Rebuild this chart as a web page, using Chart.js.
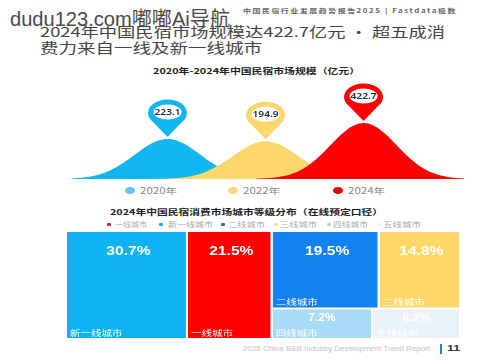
<!DOCTYPE html>
<html><head><meta charset="utf-8">
<script src="https://cdn.jsdelivr.net/npm/chart.js@4.4.1/dist/chart.umd.min.js"></script>
<style>
html,body{margin:0;padding:0;background:#fff;}
#page{position:relative;width:500px;height:360px;overflow:hidden;background:#fff;font-family:"Noto Sans CJK SC","Noto Sans",sans-serif;}
.t{position:absolute;white-space:nowrap;transform-origin:0 0;}
.m{position:absolute;}
canvas{position:absolute;}
</style></head><body>
<div id="page">
  <canvas id="c1" width="392" height="99" style="left:72px;top:80px;width:392px;height:99px"></canvas>
  <canvas id="c2" width="394" height="108" style="left:66px;top:231px;width:394px;height:108px"></canvas>
</div>
<script>
// ---------- DATA ----------
const years = ['2020年', '2022年', '2024年'];
const yearValues = [2020, 2022, 2024];
const marketSize = [223.1, 194.9, 422.7];           // 亿元
const cityTiers = ['一线城市', '新一线城市', '二线城市', '三线城市', '四线城市', '五线城市'];
const tierShare = [21.5, 30.7, 19.5, 14.8, 7.2, 6.3]; // %

// ---------- STYLE ----------
const yearColors = ['#12B6F1', '#FDD66C', '#FF0000'];
const yearLegendColors = ['#5EC5EF', '#FBD978', '#E60000'];
const tierColors = ['#FF0000', '#0DB3F2', '#1482EE', '#FED867', '#A7DBF6', '#EAF1F8'];
const tierLegendColors = ['#D9262B', '#2EA8E6', '#1A6FC9', '#F6DFA2', '#B9D3E6', '#EDF2F7'];

const page = document.getElementById('page');
const toFit = [];
function text(str, left, cy, w, size, color, opts = {}) {
  const el = document.createElement('div');
  el.className = 't';
  el.textContent = str;
  const L = Math.round(size * 1.25);
  el.style.left = left + 'px';
  el.style.top = (cy - L / 2 - 0.06 * size) + 'px';
  el.style.fontSize = size + 'px';
  el.style.lineHeight = L + 'px';
  el.style.color = color;
  if (opts.weight) el.style.fontWeight = opts.weight;
  if (opts.family) el.style.fontFamily = opts.family;
  if (opts.ls) el.style.letterSpacing = opts.ls + 'px';
  page.appendChild(el);
  toFit.push([el, w]);
  return el;
}
function mark(cx, cy, w, h, color, radius) {
  const el = document.createElement('div');
  el.className = 'm';
  el.style.left = (cx - w / 2) + 'px';
  el.style.top = (cy - h / 2) + 'px';
  el.style.width = w + 'px';
  el.style.height = h + 'px';
  el.style.background = color;
  el.style.borderRadius = radius;
  page.appendChild(el);
}

// header & titles
text('中国民宿行业发展趋势报告2025 | Fastdata极数', 243, 11, 214, 6, '#666', {weight: 'bold', ls: 1.2});
text('2024年中国民宿市场规模达422.7亿元 · 超五成消', 40, 32.5, 405, 13.5, '#444');
text('费力来自一线及新一线城市', 40, 48.5, 222, 13.5, '#444');
text('dudu123.com嘟嘟Ai导航', 10, 21, 220, 20, '#4a4a4a', {family: '"Liberation Sans","Noto Sans CJK SC",sans-serif'});
text('2020年-2024年中国民宿市场规模（亿元）', 153, 71, 207, 8, '#222', {weight: 'bold'});

// top legend
const legendX = [130, 233, 338];
years.forEach((y, i) => {
  mark(legendX[i], 190.5, 10, 7, yearLegendColors[i], '50%');
  text(y, legendX[i] + 10, 191, 37, 8.5, '#888');
});

// bottom title & legend
text('2024年中国民宿消费市场城市等级分布（在线预定口径）', 110, 212, 273, 8, '#222', {weight: 'bold'});
const legend2Marks = [109, 161, 223, 276, 329, 379];
const legend2Text = [115, 168, 228, 280, 333, 383];
const legend2W = [32, 45, 37, 37, 35, 38];
cityTiers.forEach((c, i) => {
  mark(legend2Marks[i], 224, 4, 3, tierLegendColors[i], '1px');
  text(c, legend2Text[i], 224, legend2W[i], 6.7, '#aaa');
});

// footer
text('2025 China B&B Industry Development Trend Report', 243, 349, 187, 6.5, '#c2c2c2', {family: '"Liberation Sans",sans-serif'});
mark(441, 349, 2, 10, '#2C80D3', '0');
text('11', 447, 349, 13, 8.5, '#333', {weight: 'bold', family: '"Liberation Sans",sans-serif'});

function fitAll() {
  toFit.forEach(([el, w]) => {
    el.style.transform = 'none';
    const nw = el.getBoundingClientRect().width;
    el.style.transform = 'scaleX(' + (w / nw) + ')';
  });
}
fitAll();
if (document.fonts && document.fonts.ready) document.fonts.ready.then(fitAll);

// canvas text helper (horizontally stretched like the reference)
function ctext(ctx, str, x, y, font, color, sx, align) {
  ctx.save();
  ctx.font = font;
  const w = ctx.measureText(str).width * sx;
  const left = align === 'center' ? x - w / 2 : x;
  ctx.translate(left, y);
  ctx.scale(sx, 1);
  ctx.fillStyle = color;
  ctx.textAlign = 'left';
  ctx.textBaseline = 'middle';
  ctx.fillText(str, 0, 0);
  ctx.restore();
}

// ---------- TOP CHART: bell shapes ----------
const Y_MIN = -276, Y_MAX = 959, SIGMA = 0.67;
function bellShape(center, value) {
  const pts = [];
  for (let k = -44; k <= 44; k++) {
    const x = center + k * 0.05;
    pts.push({x, y: Y_MIN + (value - Y_MIN) * Math.exp(-((x - center) ** 2) / (2 * SIGMA * SIGMA))});
  }
  return pts;
}
const pinPlugin = {
  id: 'pins',
  afterDatasetsDraw(chart) {
    const ctx = chart.ctx, xs = chart.scales.x, ys = chart.scales.y;
    yearValues.forEach((yr, i) => {
      const tx = xs.getPixelForValue(yr);
      const ty = ys.getPixelForValue(marketSize[i]) - 2;
      const cx = tx, cy = ty - 24, rx = 19.5, ry = 13.5, a = 0.75;
      ctx.save();
      ctx.beginPath();
      ctx.moveTo(tx, ty);
      ctx.lineTo(cx + rx * Math.cos(a), cy + ry * Math.sin(a));
      ctx.ellipse(cx, cy, rx, ry, 0, a, Math.PI - a, true);
      ctx.closePath();
      ctx.fillStyle = yearColors[i];
      ctx.fill();
      ctx.beginPath();
      ctx.ellipse(cx, cy - 1, 14, 7.5, 0, 0, Math.PI * 2);
      ctx.fillStyle = '#fff';
      ctx.fill();
      ctx.restore();
      ctext(ctx, marketSize[i].toFixed(1), cx, cy - 0.5, '600 8.5px "Noto Sans"', '#1d2b44', 1.2, 'center');
    });
  }
};
new Chart(document.getElementById('c1'), {
  type: 'line',
  data: {
    datasets: yearValues.map((yr, i) => ({
      label: years[i],
      data: bellShape(yr, marketSize[i]),
      backgroundColor: yearColors[i],
      borderColor: yearColors[i],
      borderWidth: 0,
      pointRadius: 0,
      fill: 'start',
      tension: 0,
      order: yearValues.length - 1 - i
    }))
  },
  options: {
    responsive: false, animation: false, events: [],
    layout: {padding: 0},
    plugins: {legend: {display: false}, tooltip: {enabled: false}},
    scales: {
      x: {type: 'linear', min: 2018.05, max: 2026.05, display: false},
      y: {min: Y_MIN, max: Y_MAX, display: false}
    }
  },
  plugins: [pinPlugin]
});

// ---------- BOTTOM CHART: treemap (slice & dice) ----------
const tileLayout = {dir: 'h', items: [1, 0, {dir: 'v', items: [{dir: 'h', items: [2, 3]}, {dir: 'h', items: [4, 5]}]}]};
function total(node) { return typeof node === 'number' ? tierShare[node] : node.items.reduce((a, n) => a + total(n), 0); }
function slice(node, x0, y0, x1, y1, out) {
  if (typeof node === 'number') { out[node] = {x0, y0, x1, y1}; return; }
  const tot = total(node); let acc = 0;
  node.items.forEach(n => {
    const f0 = acc / tot; acc += total(n); const f1 = acc / tot;
    if (node.dir === 'h') slice(n, x0 + (x1 - x0) * f0, y0, x0 + (x1 - x0) * f1, y1, out);
    else slice(n, x0, y1 - (y1 - y0) * f1, x1, y1 - (y1 - y0) * f0, out);
  });
}
const rects = [];
slice(tileLayout, 0, 0, 100, 100, rects);
const GX = 100 / 394, GY = 100 / 108; // 1px gap in data units
const tileLabels = {
  id: 'tileLabels',
  afterDatasetsDraw(chart) {
    const ctx = chart.ctx, xs = chart.scales.x, ys = chart.scales.y;
    rects.forEach((r, i) => {
      const left = xs.getPixelForValue(r.x0 + GX), right = xs.getPixelForValue(r.x1 - GX);
      const top = ys.getPixelForValue(r.y1 - GY), bottom = ys.getPixelForValue(r.y0 + GY);
      const h = bottom - top;
      const big = h > 50;
      ctext(ctx, tierShare[i].toFixed(1) + '%', (left + right) / 2 + (big ? 2 : 0), top + Math.min(20, h * 0.32),
        'bold ' + (big ? 12 : 10) + 'px "Liberation Sans"', '#fff', big ? 1.3 : 1.2, 'center');
      ctext(ctx, cityTiers[i], left + 3, bottom - 5, '7.5px "Noto Sans CJK SC"', '#fff', 1.4, 'left');
    });
  }
};
new Chart(document.getElementById('c2'), {
  type: 'line',
  data: {
    datasets: rects.map((r, i) => ({
      label: cityTiers[i],
      data: [{x: r.x0 + GX, y: r.y1 - GY}, {x: r.x1 - GX, y: r.y1 - GY}],
      fill: {value: r.y0 + GY},
      backgroundColor: tierColors[i],
      borderColor: 'rgba(0,0,0,0)',
      borderWidth: 0,
      pointRadius: 0
    }))
  },
  options: {
    responsive: false, animation: false, events: [],
    layout: {padding: 0},
    plugins: {legend: {display: false}, tooltip: {enabled: false}},
    scales: {
      x: {type: 'linear', min: 0, max: 100, display: false},
      y: {min: 0, max: 100, display: false}
    }
  },
  plugins: [tileLabels]
});
</script>
</body></html>
